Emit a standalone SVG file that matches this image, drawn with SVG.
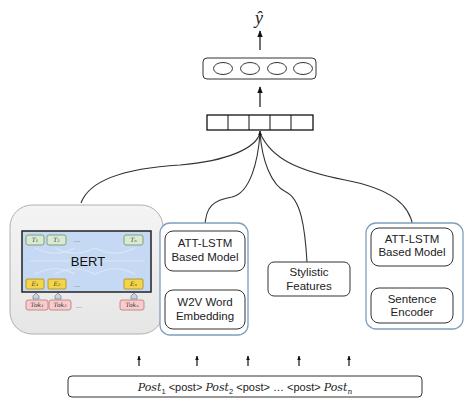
<svg xmlns="http://www.w3.org/2000/svg" width="474" height="407" viewBox="0 0 474 407">
<defs>
<style>
.t{font-family:"Liberation Sans",Arial,sans-serif;font-size:11.5px;fill:#222;text-anchor:middle}
.box{fill:#fff;stroke:#333;stroke-width:1}
.cont{fill:#fff;stroke:#7f9fbd;stroke-width:1.3}
.conn{fill:none;stroke:#333;stroke-width:1.1}
.arr{stroke:#111;stroke-width:1.2;fill:none}
.m{font-family:"DejaVu Serif","Liberation Serif",serif;font-style:italic;font-size:11px;fill:#222}
.sub{font-size:7.5px}
.tb{fill:#d9ead3;stroke:#6f8f60;stroke-width:0.8}
.eb{fill:#f4d54a;stroke:#a88a1e;stroke-width:0.8}
.kb{fill:#f6cccc;stroke:#c07474;stroke-width:0.8}
.sm{font-family:"DejaVu Serif",serif;font-style:italic;font-size:6px;fill:#333;text-anchor:middle}
</style>
<marker id="ah" viewBox="0 0 10 10" refX="9" refY="5" markerWidth="6" markerHeight="6" orient="auto-start-reverse">
<path d="M0,1 L10,5 L0,9 z" fill="#111"/>
</marker>
<marker id="ahs" viewBox="0 0 10 10" refX="9" refY="5" markerWidth="4" markerHeight="5" orient="auto">
<path d="M0,1 L10,5 L0,9 z" fill="#111"/>
</marker>
<linearGradient id="bg" x1="0" y1="0" x2="0" y2="1">
<stop offset="0" stop-color="#f4f4f4"/>
<stop offset="1" stop-color="#e6e6e6"/>
</linearGradient>
</defs>

<g id="output-label">
<text x="259" y="24" font-family="Liberation Serif,serif" font-style="italic" font-size="18" text-anchor="middle" fill="#222">ŷ</text>
</g>

<g id="output-layer">
<rect x="203" y="58" width="113" height="21" rx="4" fill="#fff" stroke="#333" stroke-width="1"/>
<ellipse cx="223" cy="68.5" rx="9.5" ry="6" fill="#fff" stroke="#333"/>
<ellipse cx="250" cy="68.5" rx="9.5" ry="6" fill="#fff" stroke="#333"/>
<ellipse cx="277" cy="68.5" rx="9.5" ry="6" fill="#fff" stroke="#333"/>
<ellipse cx="303" cy="68.5" rx="9.5" ry="6" fill="#fff" stroke="#333"/>
</g>

<g id="concat-vector">
<rect x="207" y="115" width="106" height="15" fill="#fff" stroke="#111" stroke-width="1.3"/>
<path d="M228,115V130M249,115V130M270,115V130M291,115V130" stroke="#111" stroke-width="1"/>
</g>

<g id="connectors">
<line class="arr" x1="260" y1="50" x2="260" y2="31" marker-end="url(#ah)"/>
<line class="arr" x1="260" y1="107" x2="260" y2="87" marker-end="url(#ah)"/>
<path class="conn" d="M81,203 C90,178 130,168 180,165 C228,161 256,148 260,133"/>
<path class="conn" d="M205,228 C205,206 214,200 232,197 C250,193 258,162 260,133"/>
<path class="conn" d="M307,262 C305,228 301,199 286,192 C271,185 262,160 260,133"/>
<path class="conn" d="M413,227 C410,205 392,189 345,180 C300,171 272,160 260,133"/>
<line class="arr" x1="260" y1="136" x2="260" y2="131" marker-end="url(#ahs)"/>
<g class="arr">
<line x1="182" y1="285" x2="182" y2="275" marker-end="url(#ahs)"/>
<line x1="198" y1="285" x2="198" y2="275" marker-end="url(#ahs)"/>
<line x1="215" y1="285" x2="215" y2="275" marker-end="url(#ahs)"/>
<line x1="231" y1="285" x2="231" y2="275" marker-end="url(#ahs)"/>
<line x1="388" y1="282" x2="388" y2="272" marker-end="url(#ahs)"/>
<line x1="405" y1="282" x2="405" y2="272" marker-end="url(#ahs)"/>
<line x1="422" y1="282" x2="422" y2="272" marker-end="url(#ahs)"/>
<line x1="439" y1="282" x2="439" y2="272" marker-end="url(#ahs)"/>
<line x1="139" y1="366" x2="139" y2="356" marker-end="url(#ahs)"/>
<line x1="197" y1="366" x2="197" y2="356" marker-end="url(#ahs)"/>
<line x1="248" y1="366" x2="248" y2="356" marker-end="url(#ahs)"/>
<line x1="299" y1="366" x2="299" y2="356" marker-end="url(#ahs)"/>
<line x1="349" y1="366" x2="349" y2="356" marker-end="url(#ahs)"/>
</g>
</g>

<g id="bert">
<rect x="10" y="205" width="153" height="129" rx="22" fill="url(#bg)" stroke="#b0b0b0" stroke-width="1"/>
<rect x="22" y="231" width="129" height="61" fill="#c6d9f4" stroke="#222" stroke-width="1.5"/>
<g stroke="#dde6f2" stroke-width="1.2" fill="none">
<path d="M35,248 C50,255 60,255 75,248 M55,248 C70,255 80,255 95,248 M95,248 C110,255 120,255 135,248"/>
<path d="M35,274 C50,267 60,267 75,274 M55,274 C70,267 80,267 95,274 M95,274 C110,267 120,267 135,274"/>
<path d="M30,261 H145"/>
</g>
<text x="88" y="266" font-family="Liberation Sans,Arial,sans-serif" font-size="13" fill="#111" text-anchor="middle">BERT</text>
<rect class="tb" x="26" y="235" width="18" height="10" rx="2"/>
<rect class="tb" x="47" y="235" width="19" height="10" rx="2"/>
<rect class="tb" x="124" y="235" width="19" height="10" rx="2"/>
<text class="sm" x="35" y="242">T₁</text>
<text class="sm" x="56.5" y="242">T₂</text>
<text class="sm" x="133.5" y="242">Tₙ</text>
<text x="74" y="242" font-family="Liberation Sans,sans-serif" font-size="7" fill="#666">...</text>
<rect class="eb" x="26" y="279" width="18" height="10" rx="1"/>
<rect class="eb" x="48" y="279" width="18" height="10" rx="1"/>
<rect class="eb" x="124" y="279" width="19" height="10" rx="1"/>
<text class="sm" x="35" y="286">E₁</text>
<text class="sm" x="57" y="286">E₂</text>
<text class="sm" x="133.5" y="286">Eₙ</text>
<text x="74" y="287" font-family="Liberation Sans,sans-serif" font-size="7" fill="#666">...</text>
<g fill="#c9d3e0" stroke="#6e7f95" stroke-width="0.7">
<path d="M33,296 L36,293 L39,296 L39,299 L33,299 Z"/>
<path d="M55,296 L58,293 L61,296 L61,299 L55,299 Z"/>
<path d="M131,296 L134,293 L137,296 L137,299 L131,299 Z"/>
</g>
<rect class="kb" x="26" y="300" width="22" height="10" rx="2"/>
<rect class="kb" x="49" y="300" width="22" height="10" rx="2"/>
<rect class="kb" x="120" y="300" width="24" height="10" rx="2"/>
<text class="sm" x="37" y="307">Tok₁</text>
<text class="sm" x="60" y="307">Tok₂</text>
<text class="sm" x="132" y="307">Tokₙ</text>
<text x="76" y="308" font-family="Liberation Sans,sans-serif" font-size="7" fill="#666">...</text>
</g>

<g id="w2v-model">
<rect class="cont" x="160" y="223" width="88" height="112" rx="10"/>
<rect class="box" x="165" y="231" width="80" height="40" rx="8"/>
<text class="t" x="205" y="247">ATT-LSTM</text>
<text class="t" x="205" y="261">Based Model</text>
<rect class="box" x="165" y="290" width="80" height="39" rx="8"/>
<text class="t" x="205" y="306">W2V Word</text>
<text class="t" x="205" y="320">Embedding</text>
</g>

<g id="stylistic">
<rect class="box" x="268" y="262" width="82" height="34" rx="6"/>
<text class="t" x="309" y="276">Stylistic</text>
<text class="t" x="309" y="290">Features</text>
</g>

<g id="sentence-model">
<rect class="cont" x="366" y="223" width="97" height="106" rx="10"/>
<rect class="box" x="371" y="228" width="82" height="38" rx="8"/>
<text class="t" x="412" y="243">ATT-LSTM</text>
<text class="t" x="412" y="256">Based Model</text>
<rect class="box" x="371" y="288" width="82" height="35" rx="8"/>
<text class="t" x="412" y="303">Sentence</text>
<text class="t" x="412" y="316">Encoder</text>
</g>

<g id="posts">
<rect x="68" y="376" width="354" height="21" rx="4" fill="#fff" stroke="#333" stroke-width="1"/>
<text x="245" y="391" text-anchor="middle" font-family="Liberation Sans,Arial,sans-serif" font-size="11" fill="#222"><tspan class="m">Post</tspan><tspan class="sub" dy="3">1</tspan><tspan dy="-3"> &lt;post&gt; </tspan><tspan class="m">Post</tspan><tspan class="sub" dy="3">2</tspan><tspan dy="-3"> &lt;post&gt; … &lt;post&gt; </tspan><tspan class="m">Post</tspan><tspan class="m sub" dy="3">n</tspan></text>
</g>
</svg>
